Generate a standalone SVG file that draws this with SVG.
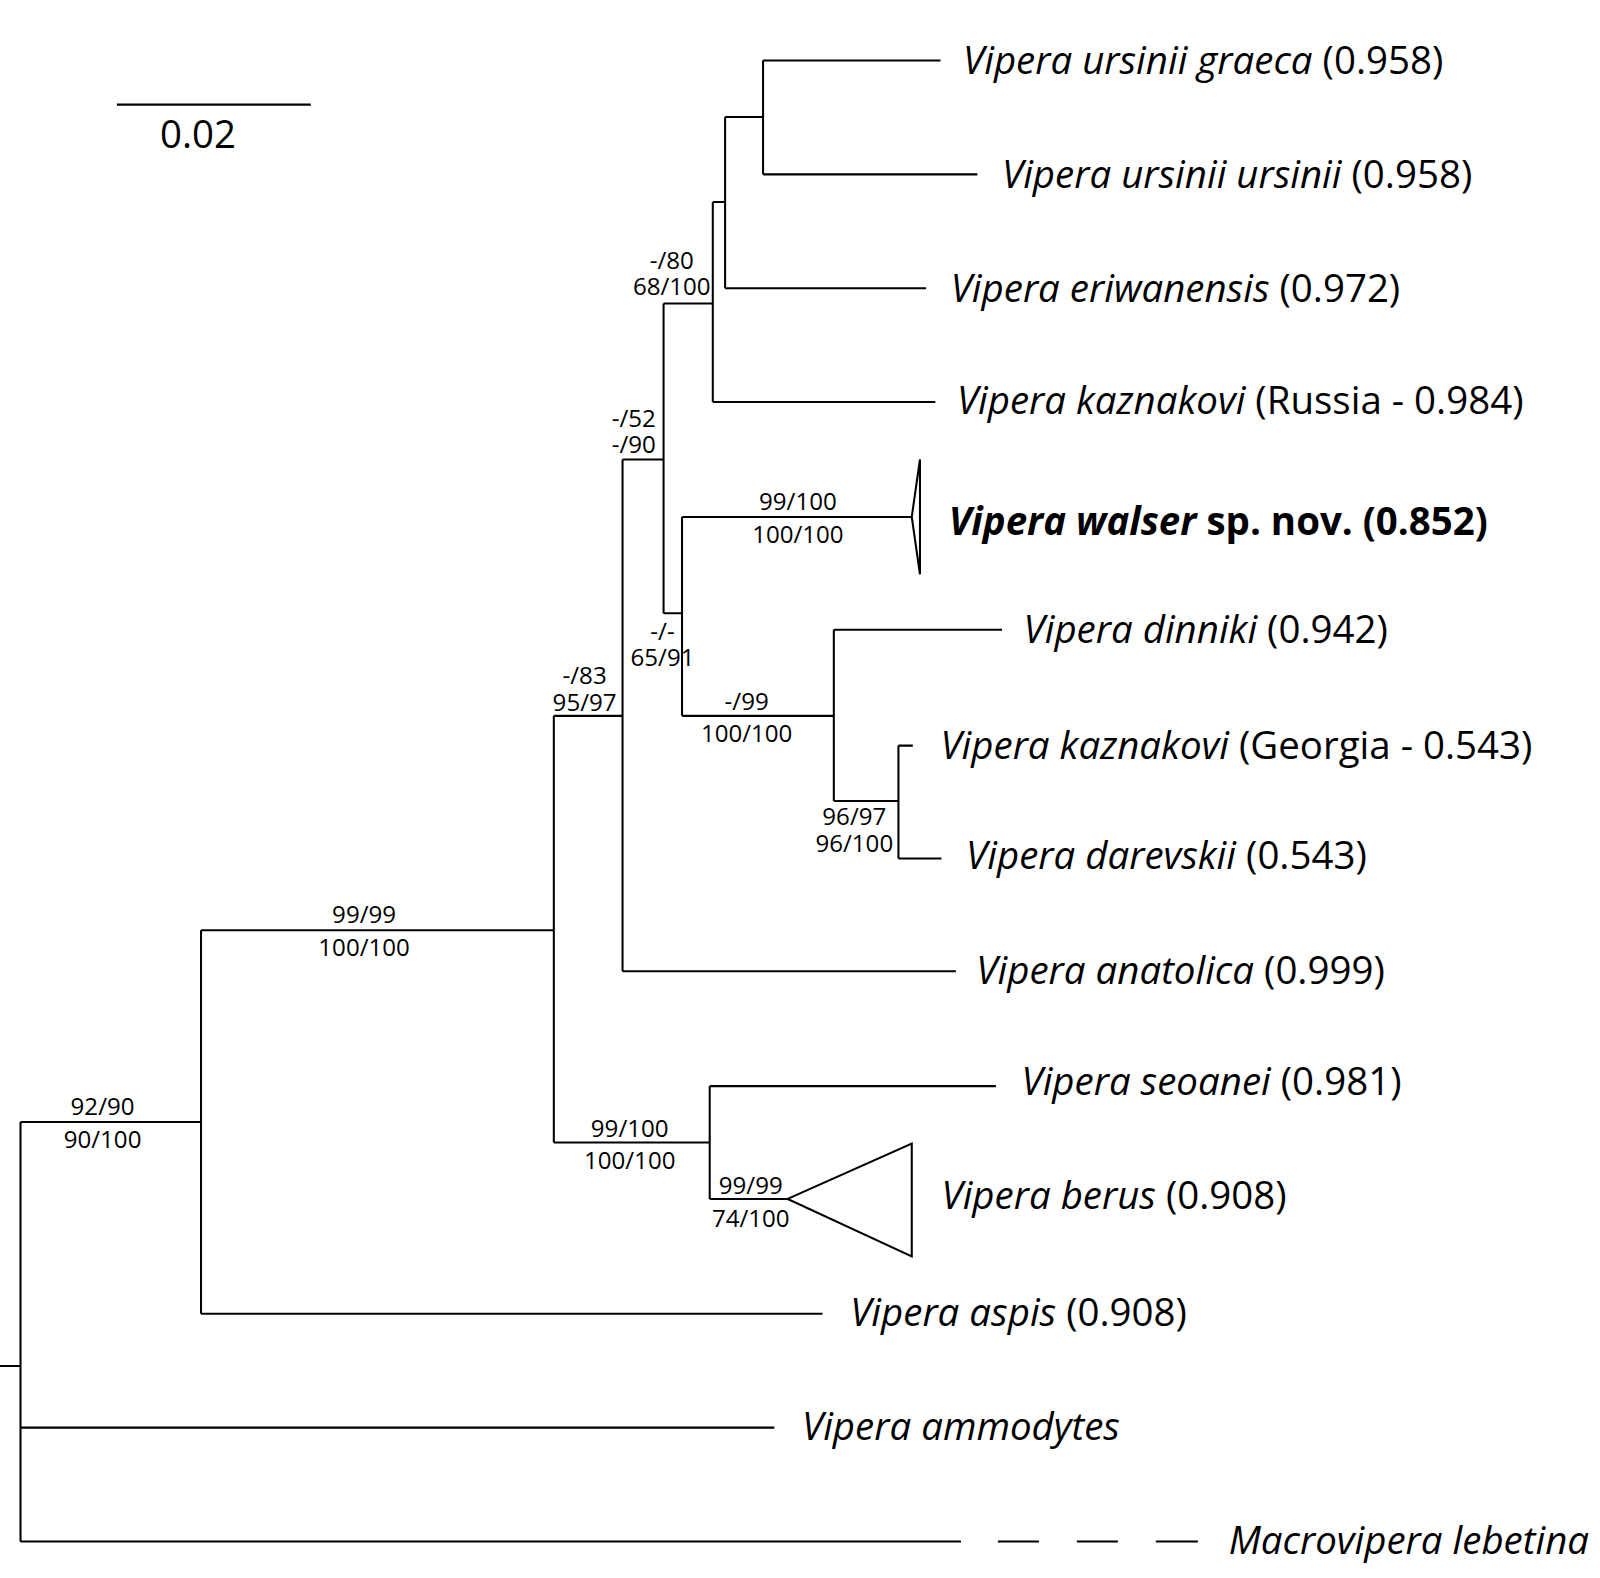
<svg xmlns="http://www.w3.org/2000/svg" width="1600" height="1578" viewBox="0 0 1600 1578">
<style>
.b{stroke:#000;stroke-width:2;fill:none}
.s{font-family:"Open Sans","Liberation Sans",sans-serif;font-size:23.5px;text-anchor:middle}
.t{font-family:"Open Sans","Liberation Sans",sans-serif;font-size:37.5px}
.i{font-style:italic}
</style>
<rect width="1600" height="1578" fill="#fff"/>
<g transform="scale(1.0256)">
<g id="scale"><path class="b" d="M114 102H303"/><text class="t" x="193" y="144" text-anchor="middle">0.02</text></g>
<g id="connectors">
<path class="b" d="M0 1332H20M20 1094V1503M20 1094H196M196 907V1281M196 907H540M196 1281H802M20 1392H755M20 1503H937M973 1503H1013M1050 1503H1090M1127 1503H1168
M540 698V1114M540 698H607M540 1114H692M692 1059V1169M692 1059H971M692 1169H768
M607 448V947M607 947H932M607 448H647M647 296V598M647 296H695M647 598H665
M695 197V392M695 392H912M695 197H707M707 114V281M707 281H903M707 114H744M744 59V170M744 59H917M744 170H953
M665 504V698M665 504H889M665 698H813M813 614V781M813 614H977M813 781H876M876 727V837M876 727H890M876 837H918"/>
<path class="b" d="M768 1169L889 1115V1225Z"/>
<path class="b" d="M889 504L897 448V560Z"/>
</g>
<g id="supports">
<text class="s" x="100" y="1087">92/90</text><text class="s" x="100" y="1119">90/100</text>
<text class="s" x="355" y="900">99/99</text><text class="s" x="355" y="932">100/100</text>
<text class="s" x="570" y="667">-/83</text><text class="s" x="570" y="693">95/97</text>
<text class="s" x="614" y="1109">99/100</text><text class="s" x="614" y="1140">100/100</text>
<text class="s" x="732" y="1164">99/99</text><text class="s" x="732" y="1196">74/100</text>
<text class="s" x="618" y="416">-/52</text><text class="s" x="618" y="442">-/90</text>
<text class="s" x="655" y="262">-/80</text><text class="s" x="655" y="288">68/100</text>
<text class="s" x="778" y="497">99/100</text><text class="s" x="778" y="529">100/100</text>
<text class="s" x="646" y="624">-/-</text><text class="s" x="646" y="649">65/91</text>
<text class="s" x="728" y="692">-/99</text><text class="s" x="728" y="723">100/100</text>
<text class="s" x="833" y="804">96/97</text><text class="s" x="833" y="831">96/100</text>
</g>
<g id="taxa">
<text class="t" x="939" y="72"><tspan class="i">Vipera ursinii graeca</tspan> (0.958)</text>
<text class="t" x="977" y="183"><tspan class="i">Vipera ursinii ursinii</tspan> (0.958)</text>
<text class="t" x="927" y="294"><tspan class="i">Vipera eriwanensis</tspan> (0.972)</text>
<text class="t" x="933" y="404"><tspan class="i">Vipera kaznakovi</tspan> (Russia - 0.984)</text>
<text class="t" x="925" y="522" font-weight="bold" font-size="38"><tspan class="i">Vipera walser</tspan> sp. nov. (0.852)</text>
<text class="t" x="998" y="627"><tspan class="i">Vipera dinniki</tspan> (0.942)</text>
<text class="t" x="917" y="740"><tspan class="i">Vipera kaznakovi</tspan> (Georgia - 0.543)</text>
<text class="t" x="942" y="847"><tspan class="i">Vipera darevskii</tspan> (0.543)</text>
<text class="t" x="952" y="959"><tspan class="i">Vipera anatolica</tspan> (0.999)</text>
<text class="t" x="996" y="1068"><tspan class="i">Vipera seoanei</tspan> (0.981)</text>
<text class="t" x="918" y="1179"><tspan class="i">Vipera berus</tspan> (0.908)</text>
<text class="t" x="829" y="1293"><tspan class="i">Vipera aspis</tspan> (0.908)</text>
<text class="t i" x="782" y="1404">Vipera ammodytes</text>
<text class="t i" x="1198" y="1515">Macrovipera lebetina</text>
</g>
</g>
</svg>
